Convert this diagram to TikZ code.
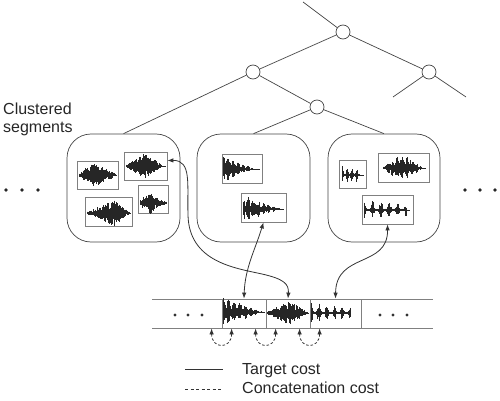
\documentclass[tikz,border=0pt]{standalone}
\usepackage{fontspec}
\setmainfont{Liberation Sans}
\usetikzlibrary{arrows.meta,calc}
\definecolor{linec}{HTML}{444444}
\definecolor{boxc}{HTML}{808080}
\definecolor{wavec}{HTML}{262626}
\definecolor{arrc}{HTML}{333333}
\newcommand\wave[7]{%
  \draw[wave] (#1,#3) -- (#7,#3);
  \foreach \wi in {0,...,#6}{%
    \pgfmathsetmacro\wt{\wi/#6}%
    \pgfmathsetmacro\we{#4*(#5)}%
    \pgfmathsetmacro\wx{#1+(#2-#1)*\wt}%
    \pgfmathsetmacro\wu{\we*(0.35+0.65*rnd)}%
    \pgfmathsetmacro\wd{\we*(0.35+0.65*rnd)}%
    \draw[wave] (\wx,#3-\wu) -- (\wx,#3+\wd);
  }}
\tikzset{
  treeline/.style={draw=linec, line width=0.7pt},
  treenode/.style={circle, draw=linec, fill=white, line width=0.7pt, minimum size=14pt, inner sep=0pt},
  cluster/.style={draw=linec, line width=0.7pt, rounded corners=24pt, inner sep=0pt},
  wbox/.style={draw=boxc, line width=0.8pt, inner sep=0pt},
  cell/.style={draw=boxc, line width=0.8pt, inner sep=0pt, minimum height=29pt},
  wave/.style={draw=wavec, line width=0.55pt},
  tcost/.style={draw=arrc, line width=0.8pt},
  ccost/.style={draw=arrc, line width=0.8pt, dash pattern=on 2.5pt off 2pt},
  dot/.style={circle, fill=black!85, inner sep=0pt, minimum size=3.8pt},
  sdot/.style={circle, fill=black!80, inner sep=0pt, minimum size=3.2pt},
  label/.style={inner sep=0pt, text=black!85, font=\fontsize{16}{17.5}\selectfont}
}
\begin{document}
\begin{tikzpicture}[x=1pt,y=-1pt]
\useasboundingbox (0,0) rectangle (500,401);
\pgfmathsetseed{11}
% tree
\node[treenode] (t0) at (343,32) {};
\node[treenode] (t1) at (253,72) {};
\node[treenode] (t2) at (429,72) {};
\node[treenode] (t3) at (317,107) {};
\coordinate (troot) at (303,2);
\coordinate (tr1) at (393,97);
\coordinate (tr2) at (466,97);
% clusters
\node[cluster, minimum width=113pt, minimum height=108pt] (cl1) at (123.5,188) {};
\node[cluster, minimum width=113pt, minimum height=108pt] (cl2) at (253.5,188) {};
\node[cluster, minimum width=112pt, minimum height=108pt] (cl3) at (384,188) {};
\draw[treeline] (troot) -- (t0);
\draw[treeline] (t0) -- (t1);
\draw[treeline] (t0) -- (t2);
\draw[treeline] (t2) -- (tr1);
\draw[treeline] (t2) -- (tr2);
\draw[treeline] (t1) -- (cl1.north);
\draw[treeline] (t1) -- (t3);
\draw[treeline] (t3) -- (cl2.north);
\draw[treeline] (t3) -- (cl3.north);
% label
\node[label, anchor=north west, align=left] (lab) at (3,103) {Clustered\\segments};
% dots
\node[dot] (ld1) at (6,190) {};
\node[dot] (ld2) at (22,190) {};
\node[dot] (ld3) at (38,190) {};
\node[dot] (rd1) at (465,190) {};
\node[dot] (rd2) at (480,190) {};
\node[dot] (rd3) at (495,190) {};
% cluster 1 boxes
\node[wbox, minimum width=41pt, minimum height=28pt] (a1) at (97.5,175) {};
\node[wbox, minimum width=43pt, minimum height=28pt] (a2) at (145.5,166) {};
\node[wbox, minimum width=47pt, minimum height=29pt] (a3) at (108.5,211.5) {};
\node[wbox, minimum width=30pt, minimum height=28pt] (a4) at (153,199) {};
% cluster 2 boxes
\node[wbox, minimum width=40pt, minimum height=29pt] (b1) at (242,168.5) {};
\node[wbox, minimum width=45pt, minimum height=29pt] (b2) at (263.5,207.5) {};
% cluster 3 boxes
\node[wbox, minimum width=27pt, minimum height=28pt] (d1) at (352.5,174) {};
\node[wbox, minimum width=51pt, minimum height=29pt] (d2) at (403.5,167.5) {};
\node[wbox, minimum width=51pt, minimum height=29pt] (d3) at (387.5,209.5) {};
% waves in cluster 1
\wave{79}{115}{175}{13}{(\wt<0.4 ? 0.12+0.88*\wt/0.4 : 0.12+0.88*(1-\wt)/0.6)}{70}{117}
\wave{126}{161}{166}{13}{(\wt<0.55 ? 0.12+0.88*\wt/0.55 : 0.12+0.88*(1-\wt)/0.45)}{70}{166}
\wave{87}{129}{213}{13}{(\wt<0.65 ? 0.1+0.9*\wt/0.65 : 0.1+0.9*(1-\wt)/0.35)}{80}{131}
\wave{140}{166}{203}{12}{(\wt<0.4 ? 0.2+0.8*\wt/0.4 : 0.15+0.85*((1-\wt)/0.6)*((1-\wt)/0.6))}{50}{167}
% waves in cluster 2
\wave{223}{253}{169}{13}{(1.05-\wt)*(0.4+0.6*abs(cos(180*6*\wt)))}{65}{260}
\wave{243}{279}{209}{13}{(1.05-\wt)*(0.4+0.6*abs(cos(180*7*\wt)))}{70}{284}
% waves in cluster 3
\wave{342}{359}{175}{10}{0.15+0.85*(1-0.3*\wt)*abs(cos(180*3.5*\wt))^4}{35}{364}
\wave{383}{421}{168}{12}{(0.15+sin(180*\wt))*(0.35+0.65*abs(cos(180*8*\wt)))/1.15}{75}{426}
\wave{364}{406}{210}{11}{0.12+0.88*(1-0.45*\wt)*abs(cos(180*5*\wt))^6}{80}{410}
% strip
\node[cell, minimum width=44pt] (c1) at (244,313.5) {};
\node[cell, minimum width=44pt] (c2) at (288,313.5) {};
\node[cell, minimum width=51pt] (c3) at (335.5,313.5) {};
\coordinate (sl) at (152,299);
\coordinate (sr) at (433,299);
\draw[draw=boxc, line width=0.8pt] (sl) -- (sr);
\draw[draw=boxc, line width=0.8pt] (sl |- c1.south) -- (sr |- c1.south);
\node[sdot] (s1) at (175,315) {};
\node[sdot] (s2) at (188,315) {};
\node[sdot] (s3) at (202,315) {};
\node[sdot] (s4) at (380,315) {};
\node[sdot] (s5) at (393,315) {};
\node[sdot] (s6) at (407,315) {};
\wave{223}{262}{312}{14}{(1.05-\wt)*(0.4+0.6*abs(cos(180*7*\wt)))}{80}{265}
\wave{267}{307}{313}{12}{(\wt<0.55 ? 0.1+0.9*\wt/0.55 : 0.1+0.9*(1-\wt)/0.45)}{75}{309}
\wave{311}{350}{313}{11}{0.12+0.88*(1-0.5*\wt)*abs(cos(180*5*\wt))^6}{75}{350}
% target cost links
\draw[tcost, {Latex[length=6pt,width=4.5pt]}-{Latex[length=6pt,width=4.5pt]}] (a2.14) .. controls (192,160) and (187,185) .. (188,215) .. controls (189,262) and (235,268) .. (262,274) .. controls (284,279) and (289,284) .. (c2.north);
\draw[tcost, {Latex[length=6pt,width=4.5pt]}-{Latex[length=6pt,width=4.5pt]}] (b2.south) .. controls (255,250) and (245,268) .. (c1.north);
\draw[tcost, {Latex[length=6pt,width=4.5pt]}-{Latex[length=6pt,width=4.5pt]}] (d3.south) .. controls (388,268) and (336,252) .. (c3.north);
% concatenation cost arcs
\foreach \cc in {c1.south west, c2.south west, c3.south west}{
  \draw[ccost, {Latex[length=6pt,width=4.5pt]}-{Latex[length=6pt,width=4.5pt]}] ($(\cc)+(-10,0)$) .. controls ($(\cc)+(-10,21)$) and ($(\cc)+(10,21)$) .. ($(\cc)+(10,0)$);
}
% legend
\coordinate (l1a) at (185,369);
\coordinate (l1b) at (223,369);
\coordinate (l2a) at (185,389);
\coordinate (l2b) at (223,389);
\draw[draw=arrc, line width=0.8pt] (l1a) -- (l1b);
\draw[draw=arrc, line width=0.8pt, dash pattern=on 3pt off 2.5pt] (l2a) -- (l2b);
\node[label, anchor=base west] (lt1) at (242,374) {Target cost};
\node[label, anchor=base west] (lt2) at (242,393) {Concatenation cost};
\end{tikzpicture}
\end{document}
